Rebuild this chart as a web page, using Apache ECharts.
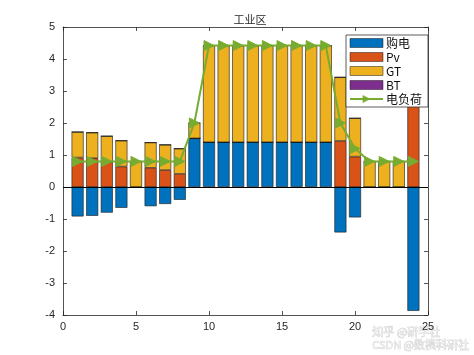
<!DOCTYPE html>
<html><head><meta charset="utf-8">
<script src="https://cdn.jsdelivr.net/npm/echarts@6/dist/echarts.min.js"></script>
<style>html,body{margin:0;padding:0;background:#fff}#c{width:474px;height:355px}</style>
</head><body><div id="c"></div>
<script>
var categories = ['0','1','2','3','4','5','6','7','8','9','10','11','12','13','14','15','16','17','18','19','20','21','22','23','24','25'];
var buyPos = [null,0,0,0,0,0,0,0,0,1.52,1.40,1.40,1.40,1.40,1.40,1.40,1.40,1.40,1.40,0,0,0,0,0,0,null];
var buyNeg = [null,-0.92,-0.90,-0.80,-0.65,0,-0.60,-0.53,-0.40,0,0,0,0,0,0,0,0,0,0,-1.42,-0.95,0,0,0,-3.87,null];
var pv = [null,0.92,0.90,0.78,0.64,0,0.60,0.53,0.41,0,0,0,0,0,0,0,0,0,0,1.44,0.95,0,0,0,4.67,null];
var gt = [null,0.80,0.80,0.81,0.81,0.80,0.79,0.79,0.79,0.48,3.02,3.02,3.02,3.02,3.02,3.02,3.02,3.02,3.02,1.99,1.20,0.80,0.80,0.80,0,null];
var bt = [null,0,0,0,0,0,0,0,0,0,0,0,0,0,0,0,0,0,0,0,0,0,0,0,0,null];
var load = [null,0.80,0.80,0.80,0.80,0.80,0.80,0.80,0.80,2.00,4.42,4.42,4.42,4.42,4.42,4.42,4.42,4.42,4.42,2.00,1.20,0.80,0.80,0.80,0.80,null];
var xTickStep = 5;
var yTicks = [-4,-3,-2,-1,0,1,2,3,4,5];

var font = 'Liberation Sans, Arial, sans-serif';
var axisCol = '#262626';
var edge = {borderColor:'#1a1a1a', borderWidth:0.6};
function barSeries(name, data, color){
  return {name:name, type:'bar', stack:'s', barWidth:12, data:data,
    itemStyle:Object.assign({color:color}, edge), emphasis:{disabled:true}};
}
function tickShow(i){ return i % xTickStep === 0; }
var chart = echarts.init(document.getElementById('c'), null, {renderer:'canvas'});
var commonAxis = {
  axisLine:{show:true, onZero:false, lineStyle:{color:axisCol, width:0.8}},
  axisTick:{show:true, inside:true, length:4, lineStyle:{color:axisCol, width:0.8}},
  splitLine:{show:false}
};
var xBase = {type:'category', data:categories, boundaryGap:false};
chart.setOption({
  animation:false,
  title:{text:'工业区', left:245, top:9, textAlign:'center',
    textStyle:{fontFamily:'Noto Sans CJK SC', fontSize:11, fontWeight:'normal', color:'#262626'}},
  grid:{left:63, right:46, top:27, bottom:40},
  legend:{orient:'vertical', left:346, top:35, padding:[2,6,2,3], itemGap:2,
    itemWidth:33, itemHeight:9, borderColor:'#333', borderWidth:0.8, backgroundColor:'#fff',
    itemStyle:{borderWidth:0.5},
    data:[{name:'购电', icon:'rect'},{name:'Pv', icon:'rect'},{name:'GT', icon:'rect'},{name:'BT', icon:'rect'},'电负荷'],
    textStyle:{fontFamily:'Noto Sans CJK SC', fontSize:12, lineHeight:10, color:'#111', padding:[0,0,0,-2]}},
  xAxis:[Object.assign({}, xBase, commonAxis, {
      axisTick:Object.assign({}, commonAxis.axisTick, {interval:function(i){return tickShow(i);}}),
      axisLabel:{color:axisCol, fontFamily:font, fontSize:11, margin:6, interval:function(i){return tickShow(i);}}}),
    Object.assign({}, xBase, commonAxis, {position:'top',
      axisTick:Object.assign({}, commonAxis.axisTick, {interval:function(i){return tickShow(i);}}),
      axisLabel:{show:false}})],
  yAxis:[Object.assign({type:'value', min:yTicks[0], max:yTicks[yTicks.length-1], interval:1,
      axisLabel:{color:axisCol, fontFamily:font, fontSize:11, margin:8}}, commonAxis),
    Object.assign({type:'value', min:yTicks[0], max:yTicks[yTicks.length-1], interval:1, position:'right',
      axisLabel:{show:false}}, commonAxis)],
  series:[
    Object.assign(barSeries('购电', buyPos, '#0072BD'), {
      markLine:{silent:true, symbol:'none', label:{show:false},
        lineStyle:{color:'#000', width:1, type:'solid'}, data:[{yAxis:0}]}}),
    barSeries('购电', buyNeg, '#0072BD'),
    barSeries('Pv', pv, '#D95319'),
    barSeries('GT', gt, '#EDB120'),
    barSeries('BT', bt, '#7E2F8E'),
    {name:'电负荷', type:'line', data:load, symbol:'triangle', symbolRotate:-90,
     symbolSize:10, showAllSymbol:true, connectNulls:false,
     lineStyle:{color:'#77AC30', width:2}, itemStyle:{color:'#77AC30', borderColor:'#77AC30'},
     z:5, emphasis:{disabled:true}}
  ],
  graphic:[
    {type:'text', left:372, top:326, silent:true,
     style:{text:'知乎 @研学社', font:'11px Noto Sans CJK SC', fill:'rgba(255,255,255,0.6)', stroke:'rgba(150,150,150,0.55)', lineWidth:0.6}},
    {type:'text', left:372, top:339, silent:true,
     style:{text:'CSDN @数模科研社', font:'11px Noto Sans CJK SC', fill:'rgba(255,255,255,0.6)', stroke:'rgba(150,150,150,0.55)', lineWidth:0.6}}
  ]
});
</script></body></html>
